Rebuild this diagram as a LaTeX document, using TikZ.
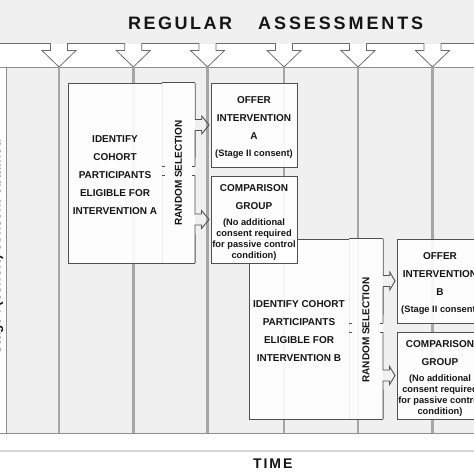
\documentclass[tikz,border=0pt]{standalone}
\usepackage{fontspec}
\setmainfont{Liberation Sans}
\usetikzlibrary{calc}
\definecolor{bggray}{HTML}{F0F0F0}
\definecolor{vline}{HTML}{A6A6A6}
\definecolor{boxline}{HTML}{505050}
\definecolor{bandline}{HTML}{6E6E6E}
\definecolor{panelline}{HTML}{8E8E8E}
\definecolor{timeline}{HTML}{D6D6D6}
\definecolor{ink}{HTML}{151515}
\tikzset{
  boxnode/.style={draw=boxline, line width=0.9pt, fill=white, fill opacity=0.9, inner sep=0pt},
  colnode/.style={fill=white, fill opacity=0.9, inner sep=0pt},
  edge/.style={draw=boxline, line width=0.9pt},
  vl/.style={draw=vline, line width=2.8pt},
  lbl/.style={inner sep=0pt, anchor=base, text=ink, font=\bfseries\fontsize{10}{12}\selectfont},
  lbls/.style={inner sep=0pt, anchor=base, text=ink, font=\bfseries\fontsize{9.3}{11}\selectfont},
  titletext/.style={inner sep=0pt, anchor=base west, text=ink, font=\bfseries\fontsize{18}{20}\selectfont},
  timetext/.style={inner sep=0pt, anchor=base west, text=ink, font=\bfseries\fontsize{14}{16}\selectfont},
}
\newcommand\bracketarrow[3]{%
  \draw[edge] (#1) -- ($(#1 |- #3.west)+(0,-5.5)$) -- ++(6.5,0) -- ++(0,-3.5)
    -- ($(#3.west)+(-1.5,0)$) -- ($(#1 |- #3.west)+(6.5,9)$) -- ++(0,-3.5) -- ++(-6.5,0) -- (#2);}
\begin{document}
\begin{tikzpicture}[x=1pt,y=-1pt]
\useasboundingbox (0,0) rectangle (474,474);
\fill[bggray] (0,0) rectangle (474,474);
\fill[white] (0,43.5) rectangle (474,67);
\fill[white] (0,433.5) rectangle (474,474);
% assessment arrows band
\draw[draw=bandline, line width=0.8pt] (0,43.5)
  foreach \c in {59,133.3,207.5,284,358,432.5} {
    -- (\c-8.5,43.5) -- ++(0,7) -- ++(-8.5,0) -- (\c,67) -- (\c+17,50.5) -- ++(-8.5,0) -- ++(0,-7)
  } -- (474,43.5);
% panel borders
\draw[draw=panelline, line width=0.8pt] (0,67) -- (474,67);
\draw[draw=panelline, line width=0.8pt] (0,433.5) -- (474,433.5);
\draw[draw=timeline, line width=1.5pt] (0,451) -- (474,451);
% left strip
\fill[white] (0,67.4) rectangle (6.5,433.1);
\node[inner sep=0pt, anchor=base, rotate=90, text=ink, font=\bfseries\fontsize{13.5}{15}\selectfont] (stage) at (0.4,247) {Stage I (cohort) consent obtained};
\draw[draw=panelline, line width=0.8pt] (0,67) -- (6.5,67) -- (6.5,433.5) -- (0,433.5);
% vertical time lines
\foreach \c [count=\i] in {59,133.3,207.5,284,358,432.5} {
  \coordinate (tip\i) at (\c,67);
  \coordinate (foot\i) at (\c,433);
  \draw[vl] (tip\i) -- (foot\i);
}
% ---------- intervention B ----------
\node[boxnode, minimum width=100pt, minimum height=180pt] (idB) at (299,329) {};
\node[colnode, minimum width=34pt, minimum height=180pt] (rsB) at (366,329) {};
\draw[edge] (rsB.north west) -- (rsB.north east);
\draw[edge] (rsB.south west) -- (rsB.south east);
\node[boxnode, minimum width=86pt, minimum height=84pt] (offB) at (440,281) {};
\node[boxnode, minimum width=86pt, minimum height=87pt] (cmpB) at (440,375.5) {};
\coordinate (bG1) at (383,323);
\coordinate (bG2) at (383,332);
\bracketarrow{rsB.north east}{bG1}{offB}
\bracketarrow{bG2}{rsB.south east}{cmpB}
\draw[edge] (bG1) -- ++(-3,0);
\draw[edge] (bG2) -- ++(-3,0);
\draw[edge] (rsB.west |- bG1) -- ++(3,0);
\draw[edge] (rsB.west |- bG2) -- ++(3,0);
% ---------- intervention A ----------
\node[boxnode, minimum width=94pt, minimum height=180pt] (idA) at (115,173) {};
\node[colnode, minimum width=33pt, minimum height=180pt] (rsA) at (178.5,173) {};
\draw[edge] (rsA.north west) -- (rsA.north east);
\draw[edge] (rsA.south west) -- (rsA.south east);
\node[boxnode, minimum width=86pt, minimum height=84pt] (offA) at (254,125) {};
\node[boxnode, minimum width=86pt, minimum height=87pt] (cmpA) at (254,219.5) {};
\coordinate (aG1) at (195,166.5);
\coordinate (aG2) at (195,175.5);
\bracketarrow{rsA.north east}{aG1}{offA}
\bracketarrow{aG2}{rsA.south east}{cmpA}
\draw[edge] (aG1) -- ++(-3,0);
\draw[edge] (aG2) -- ++(-3,0);
\draw[edge] (rsA.west |- aG1) -- ++(3,0);
\draw[edge] (rsA.west |- aG2) -- ++(3,0);
% ---------- texts A ----------
\node[lbl] (idA1) at (115,142.6) {IDENTIFY};
\node[lbl] (idA2) at (115,160.6) {COHORT};
\node[lbl] (idA3) at (115,178.6) {PARTICIPANTS};
\node[lbl] (idA4) at (115,196.6) {ELIGIBLE FOR};
\node[lbl] (idA5) at (115,214.6) {INTERVENTION A};
\node[lbl, anchor=center, rotate=90] (rsAt) at (178.5,173) {RANDOM SELECTION};
\node[lbl] (offA1) at (254,103.6) {OFFER};
\node[lbl] (offA2) at (254,121.3) {INTERVENTION};
\node[lbl] (offA3) at (254,139) {A};
\node[lbls] (offA4) at (254,156.7) {(Stage II consent)};
\node[lbl] (cmpA1) at (254,191.6) {COMPARISON};
\node[lbl] (cmpA2) at (254,209.6) {GROUP};
\node[lbls] (cmpA3) at (254,225) {(No additional};
\node[lbls] (cmpA4) at (254,236.1) {consent required};
\node[lbls] (cmpA5) at (254,247.2) {for passive control};
\node[lbls] (cmpA6) at (254,258.3) {condition)};
% ---------- texts B ----------
\node[lbl] (idB1) at (299,307.6) {IDENTIFY COHORT};
\node[lbl] (idB2) at (299,325.6) {PARTICIPANTS};
\node[lbl] (idB3) at (299,343.6) {ELIGIBLE FOR};
\node[lbl] (idB4) at (299,361.6) {INTERVENTION B};
\node[lbl, anchor=center, rotate=90] (rsBt) at (366,330) {RANDOM SELECTION};
\node[lbl] (offB1) at (440,259.6) {OFFER};
\node[lbl] (offB2) at (440,277.3) {INTERVENTION};
\node[lbl] (offB3) at (440,295) {B};
\node[lbls] (offB4) at (440,312.7) {(Stage II consent)};
\node[lbl] (cmpB1) at (440,347.6) {COMPARISON};
\node[lbl] (cmpB2) at (440,365.6) {GROUP};
\node[lbls] (cmpB3) at (440,381) {(No additional};
\node[lbls] (cmpB4) at (440,392.1) {consent required};
\node[lbls] (cmpB5) at (440,403.2) {for passive control};
\node[lbls] (cmpB6) at (440,414.3) {condition)};
% ---------- titles ----------
\node[titletext] (reg) at (128,29) {R\kern2.5pt E\kern2.5pt G\kern2.5pt U\kern2.5pt L\kern2.5pt A\kern2.5pt R};
\node[titletext] (ass) at (258,29) {A\kern2.9pt S\kern2.9pt S\kern2.9pt E\kern2.9pt S\kern2.9pt S\kern2.9pt M\kern2.9pt E\kern2.9pt N\kern2.9pt T\kern2.9pt S};
\node[timetext] (time) at (253,468) {T\kern1.9pt I\kern1.9pt M\kern1.9pt E};
\end{tikzpicture}
\end{document}
